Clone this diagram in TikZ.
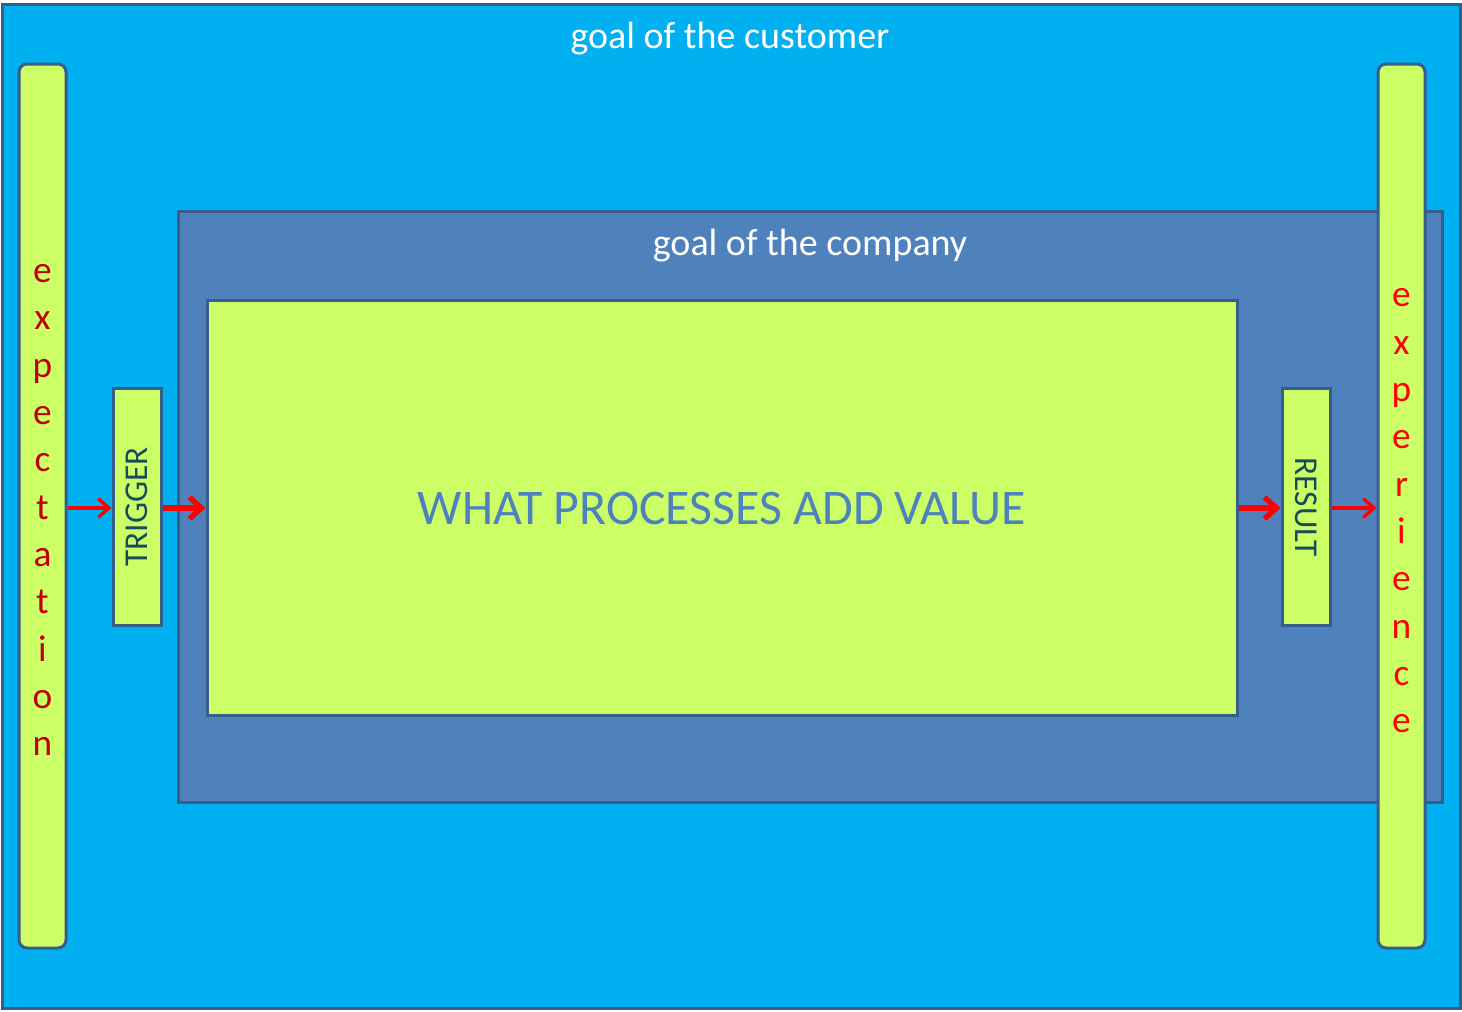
\documentclass[tikz,border=0pt]{standalone}
\usepackage{fontspec}
\setmainfont{Carlito}
\usetikzlibrary{arrows.meta}

\definecolor{cCustomer}{RGB}{0,176,240}
\definecolor{cCompany}{RGB}{79,129,189}
\definecolor{cEdge}{RGB}{56,93,138}
\definecolor{cLime}{RGB}{204,255,102}
\definecolor{cStep}{RGB}{23,75,90}
\definecolor{cExpect}{RGB}{192,0,0}
\definecolor{cExper}{RGB}{255,0,0}

\tikzset{every picture/.style={line width=0.75pt}}
\tikzset{
  limebar/.style={draw=cEdge, fill=cLime, line width=2.25pt, rounded corners=6pt,
    minimum width=35.25pt, minimum height=663pt, inner sep=0pt},
  stepbox/.style={draw=cEdge, fill=cLime, line width=2.25pt,
    minimum width=36pt, minimum height=177.75pt, inner sep=0pt},
  letters/.style={align=center, font=\fontsize{28}{35.5}\selectfont},
  thinarrow/.style={draw=red, line width=2.5pt, -{Straight Barb[length=8pt,width=14pt,line width=2.5pt]}},
  thickarrow/.style={draw=red, line width=4.5pt, -{Straight Barb[length=9pt,width=16pt,line width=4pt]}}
}

\begin{document}
\begin{tikzpicture}[x=0.75pt,y=0.75pt,yscale=-1,xscale=1]
\useasboundingbox (0,0) rectangle (1462,1011);

%Outer Rectangle [customer]
\draw [draw=cEdge, fill=cCustomer, line width=2.25pt] (2,4) rectangle (1460,1008);
\node [text=white, font=\fontsize{28.5}{32}\selectfont] (customer) at (730,39) {goal of the customer};

%Rectangle [company]
\node [draw=cEdge, fill=cCompany, line width=2.25pt, minimum width=948pt, minimum height=443.25pt, inner sep=0pt] (company) at (810,506.5) {};
\node [text=white, font=\fontsize{28.5}{32}\selectfont] (companylabel) at (810,246) {goal of the company};

%Rectangle [processes]
\node [draw=cEdge, fill=cLime, line width=2.25pt, minimum width=772.5pt, minimum height=311.25pt, inner sep=0pt,
  text=cCompany, font=\fontsize{37.4}{40}\selectfont] (process) at (722,508) {WHAT PROCESSES ADD VALUE};

% Text Node
\node [limebar] (expect) at (42.5,506) {};
\node [letters, text=cExpect] at (42.5,510) {e\\x\\p\\e\\c\\t\\a\\t\\i\\o\\n};
% Text Node
\node [limebar] (exper) at (1401.5,506) {};
\node [letters, text=cExper] at (1401.5,511) {e\\x\\p\\e\\r\\i\\e\\n\\c\\e};

% Text Node
\node [stepbox] (trigger) at (137,506.5) {};
\node [rotate=90, text=cStep, font=\fontsize{25}{28}\selectfont] at (137,507) {TRIGGER};
% Text Node
\node [stepbox] (result) at (1306,506.5) {};
\node [rotate=-90, text=cStep, font=\fontsize{25}{28}\selectfont] at (1306,507) {RESULT};

%Arrows
\draw [thinarrow] (expect.east |- 0,508) -- (trigger.west |- 0,508);
\draw [thickarrow] (trigger.east |- 0,508) -- (process.west |- 0,508);
\draw [thickarrow] (process.east |- 0,508) -- (result.west |- 0,508);
\draw [thinarrow] (result.east |- 0,508) -- (exper.west |- 0,508);

\end{tikzpicture}
\end{document}
